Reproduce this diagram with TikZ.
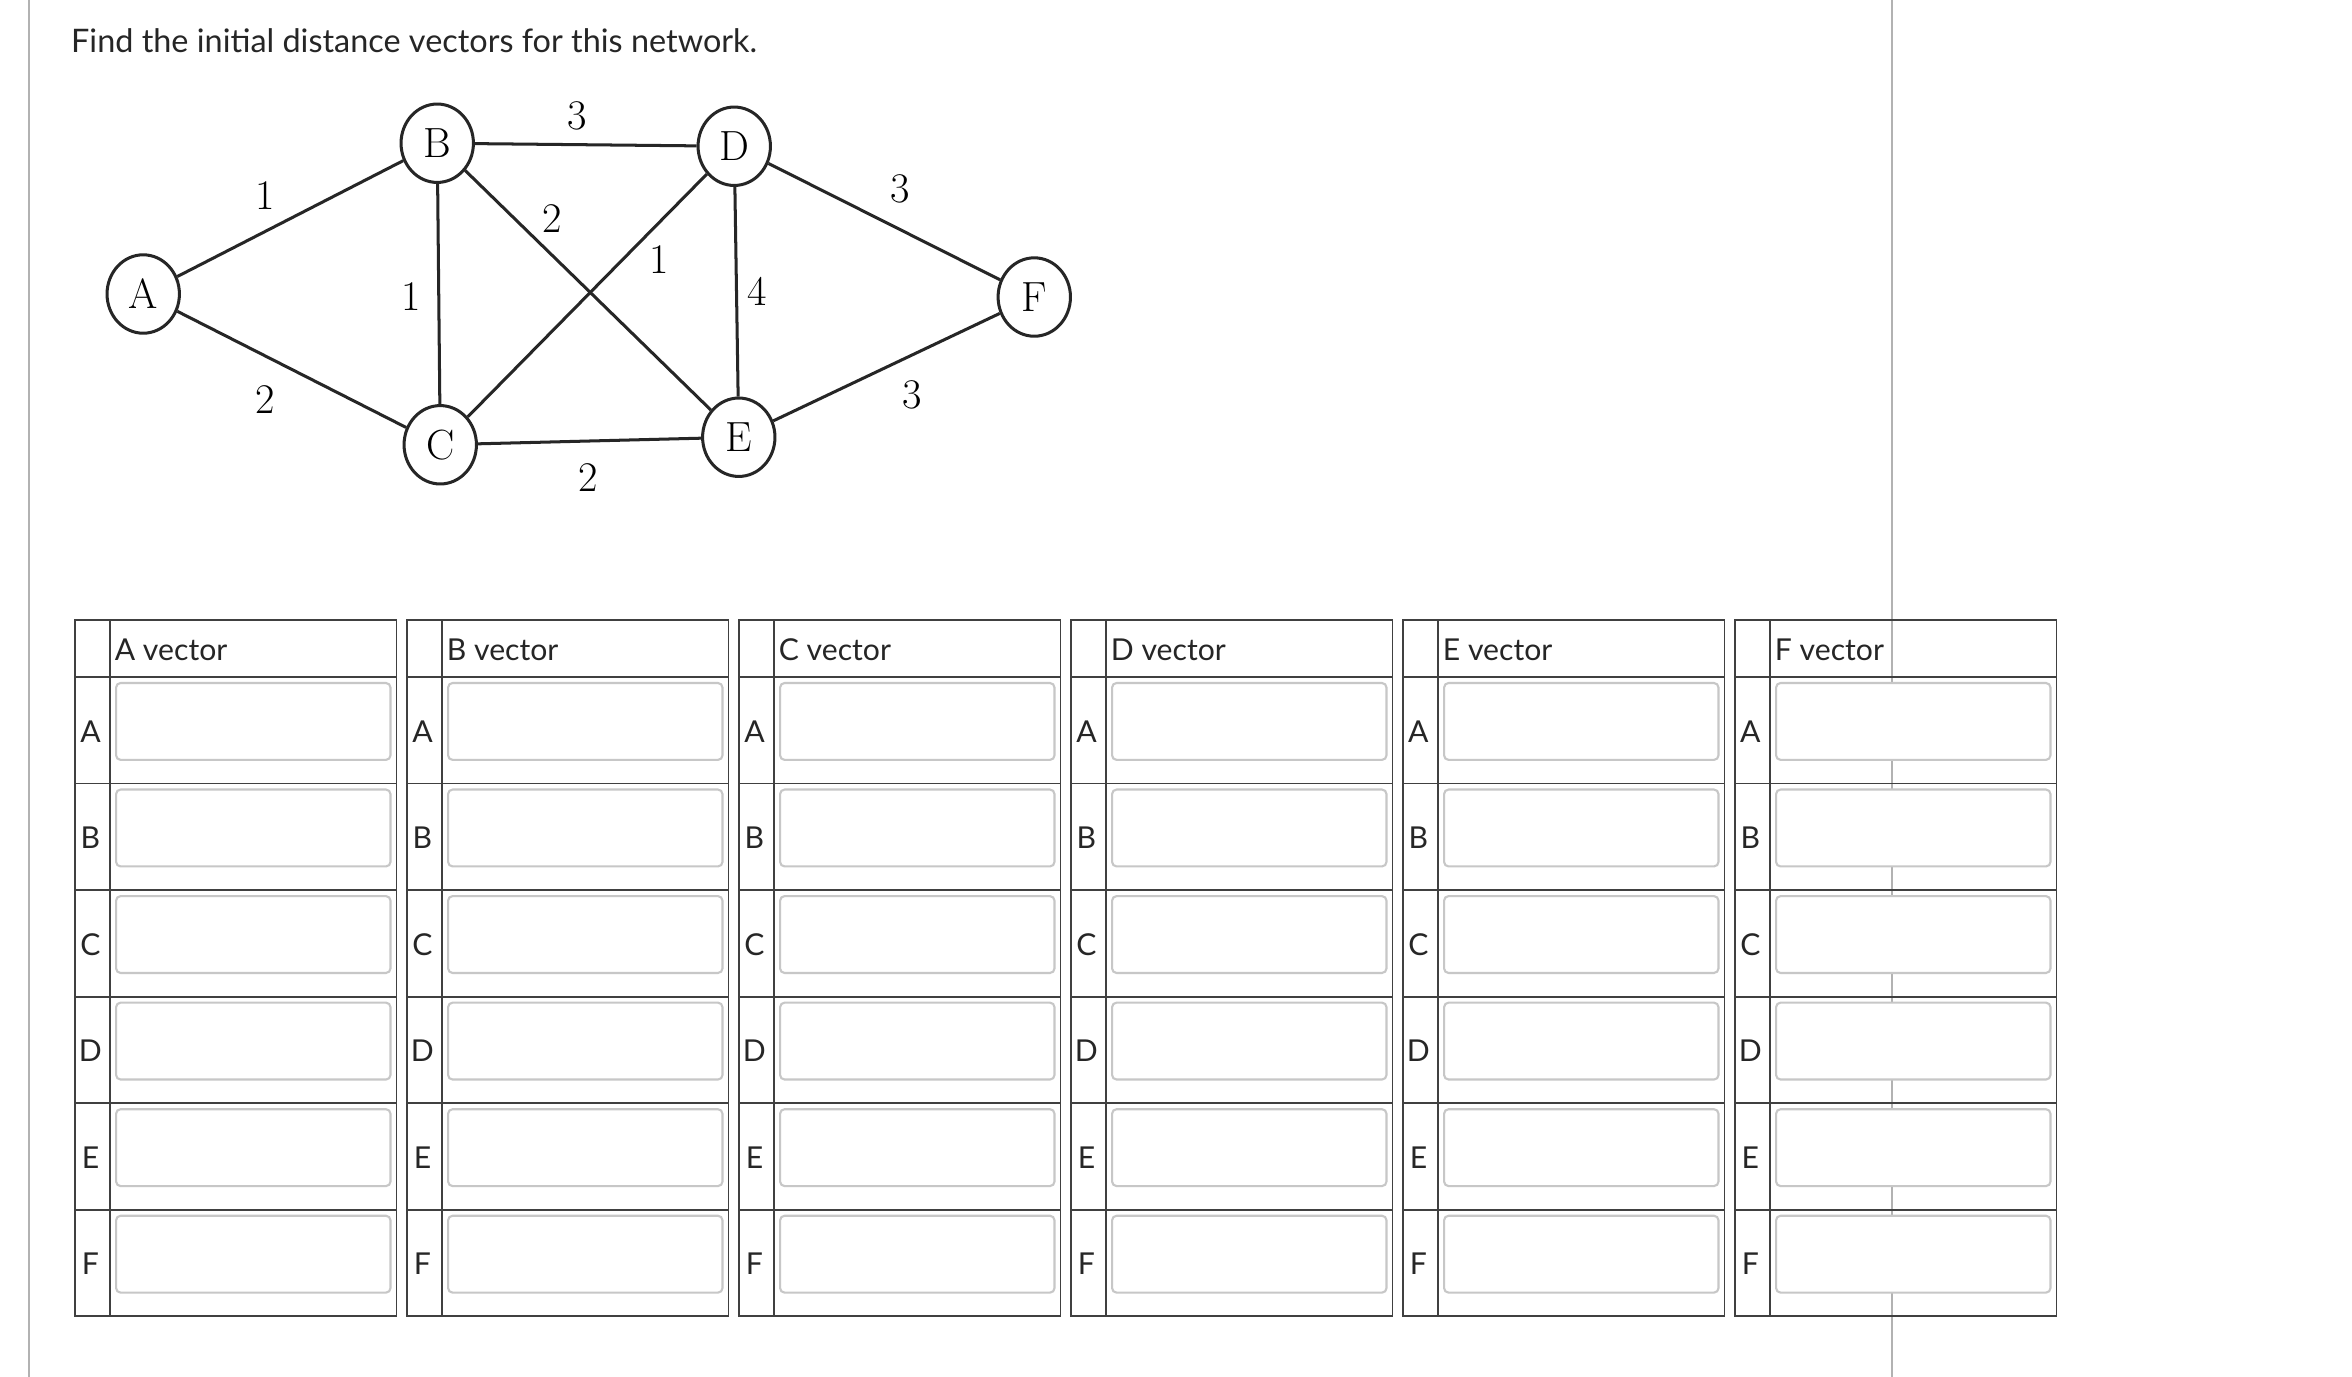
\documentclass[tikz,border=0pt]{standalone}
\usepackage{fontspec}
\setsansfont{Lato}
\begin{document}
\begin{tikzpicture}[x=1pt,y=-1pt,
  gnode/.style={draw=black!85,line width=2pt,ellipse,minimum width=48pt,minimum height=52pt,inner sep=0pt,font=\fontsize{28}{28}\selectfont},
  gedge/.style={black!85,line width=2pt},
  wlab/.style={font=\fontsize{28}{28}\selectfont,inner sep=0pt},
  grid/.style={draw=black!75,line width=1.2pt},
  inbox/.style={draw=black!22,line width=1.4pt,fill=white,rounded corners=3pt},
  txt/.style={font=\sffamily\fontsize{20}{20}\selectfont,inner sep=0pt,text=black!85}]
\usetikzlibrary{shapes.geometric}
\useasboundingbox[fill=white] (0,0) rectangle (1560,913);
\draw[black!30,line width=1.2pt] (19,0) -- (19,913);
\draw[black!30,line width=1.2pt] (1255,0) -- (1255,913);
\node[txt,anchor=west,font=\sffamily\fontsize{21.5}{21.5}\selectfont] (title) at (47,27) {Find the initial distance vectors for this network.};
% graph
\node[gnode] (A) at (95,195) {A};
\node[gnode] (B) at (290,95) {B};
\node[gnode] (C) at (292,295) {C};
\node[gnode] (D) at (487,97) {D};
\node[gnode] (E) at (490,290) {E};
\node[gnode] (F) at (686,197) {F};
\draw[gedge] (A) -- (B); \draw[gedge] (A) -- (C);
\draw[gedge] (B) -- (D); \draw[gedge] (B) -- (C);
\draw[gedge] (B) -- (E); \draw[gedge] (C) -- (D);
\draw[gedge] (D) -- (E); \draw[gedge] (C) -- (E);
\draw[gedge] (D) -- (F); \draw[gedge] (E) -- (F);
\node[wlab] (lab) at (176,130) {1};
\node[wlab] (lac) at (176,265) {2};
\node[wlab] (lbd) at (383,77) {3};
\node[wlab] (lbc) at (273,197) {1};
\node[wlab] (lbe) at (366,145) {2};
\node[wlab] (lcd) at (437,172) {1};
\node[wlab] (lde) at (502,193) {4};
\node[wlab] (ldf) at (597,125) {3};
\node[wlab] (lef) at (605,262) {3};
\node[wlab] (lce) at (390,317) {2};
% tables
\foreach \v [count=\i from 0] in {A,B,C,D,E,F} {
  \pgfmathsetmacro{\xo}{50+220.2*\i}
  \begin{scope}[xshift=\xo]
    \draw[grid] (0,411) rectangle (213,873);
    \draw[grid] (23,411) -- (23,873);
    \draw[grid] (0,449) -- (213,449);
    \node[txt,anchor=west] (h\v) at (26,431) {\v{} vector};
    \foreach \r [count=\j from 0] in {A,B,C,D,E,F} {
      \pgfmathsetmacro{\yt}{449+70.67*\j}
      \draw[grid] (0,\yt+70.67) -- (213,\yt+70.67);
      \node[txt] (l\v\r) at (10,\yt+36) {\r};
      \draw[inbox] (27,\yt+4) rectangle (209,\yt+55);
    }
  \end{scope}
}
\end{tikzpicture}
\end{document}
